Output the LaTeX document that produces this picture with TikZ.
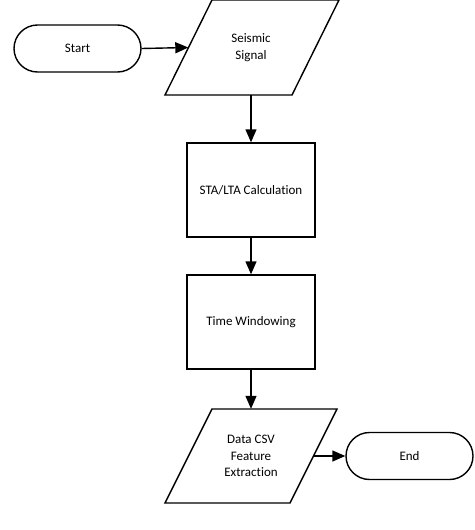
\documentclass[tikz,border=0pt]{standalone}
\usepackage{fontspec}
\setmainfont{Carlito}[Ligatures=NoCommon]
\usetikzlibrary{arrows.meta}
\begin{document}
\begin{tikzpicture}[x=1pt,y=1pt,
  every node/.style={font=\fontsize{13}{16.5}\selectfont, align=center, inner sep=0pt},
  lw/.style={line width=1.4pt},
  term/.style={lw, draw, rounded corners=23.5pt, minimum width=127pt, minimum height=47pt},
  proc/.style={lw, draw, minimum width=128pt, minimum height=94pt},
  iobox/.style={minimum width=125pt, minimum height=94pt},
  arr/.style={lw, -{Triangle[length=13pt,width=11pt]}}
]
\useasboundingbox (0,0) rectangle (474,-530);
\node[term] (start) at (77.5,-48.5) {Start};
\node[iobox] (sig) at (251,-47.5) {Seismic\\Signal};
\draw[lw, line join=miter] (sig.center) ++(-86,-47.5) -- ++(127,0) -- ++(47,95) -- ++(-127,0) -- cycle;
\node[proc] (sta) at (251,-190) {STA/LTA Calculation};
\node[proc] (tw) at (251,-322) {Time Windowing};
\node[iobox] (csv) at (251,-456) {Data CSV\\Feature\\Extraction};
\draw[lw, line join=miter] (csv.center) ++(-86,-47) -- ++(125,0) -- ++(47,94) -- ++(-125,0) -- cycle;
\node[term] (end) at (409.5,-456) {End};
\draw[arr] (start.east) -- (sig.west);
\draw[arr] (sig.south) -- (sta.north);
\draw[arr] (sta.south) -- (tw.north);
\draw[arr] (tw.south) -- (csv.north);
\draw[arr] (csv.east) -- (end.west);
\end{tikzpicture}
\end{document}
